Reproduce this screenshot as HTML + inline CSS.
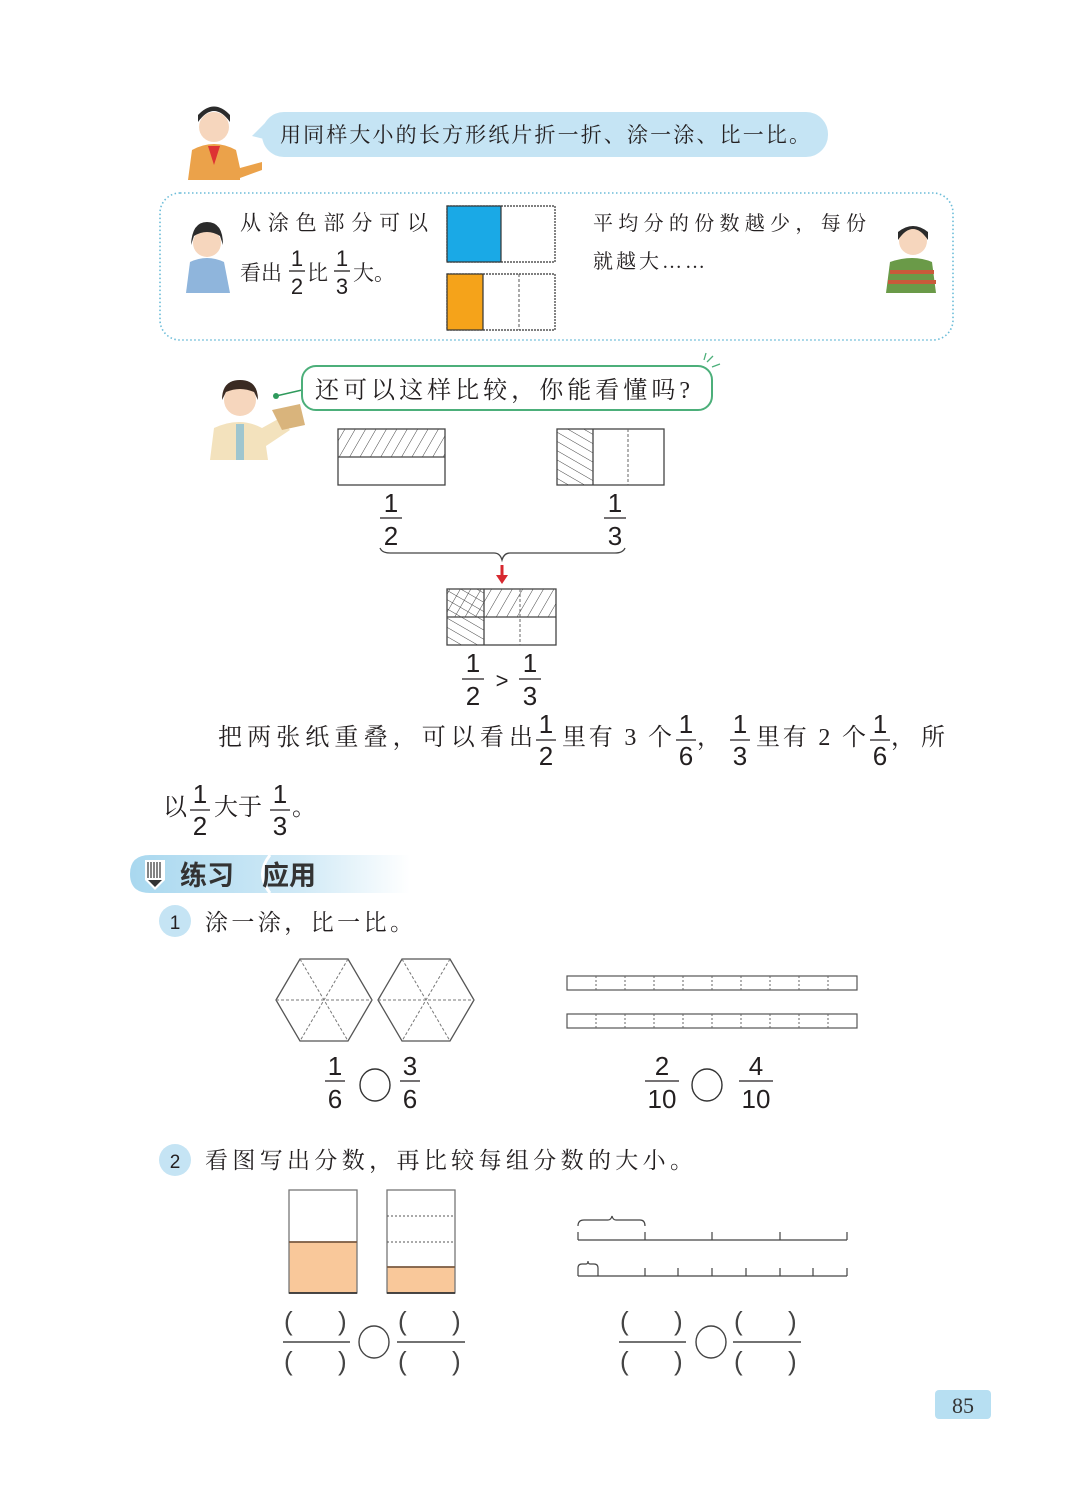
<!DOCTYPE html>
<html><head><meta charset="utf-8"><style>
html,body{margin:0;padding:0;background:#fff;}
svg{display:block}
.t{font-family:"Liberation Serif","Noto Serif CJK SC",serif;fill:#231f20;}
.n{font-family:"Liberation Sans",sans-serif;fill:#231f20;text-anchor:middle;}
</style></head><body>
<svg width="1080" height="1505" viewBox="0 0 1080 1505" xmlns="http://www.w3.org/2000/svg">
<defs>
<pattern id="h1" width="9" height="9" patternUnits="userSpaceOnUse" patternTransform="rotate(30)"><line x1="0" y1="0" x2="0" y2="9" stroke="#444" stroke-width="1"/></pattern>
<pattern id="h2" width="8" height="8" patternUnits="userSpaceOnUse" patternTransform="rotate(-60)"><line x1="0" y1="0" x2="0" y2="8" stroke="#444" stroke-width="1"/></pattern>
</defs>
<rect width="1080" height="1505" fill="#fff"/>

<!-- boy top -->
<circle cx="214" cy="127" r="15" fill="#f6d6bd"/><path d="M198 122 Q214 100 230 122 L230 115 Q214 98 198 115Z" fill="#2b2b2b"/>
<path d="M188 180 L192 150 Q214 138 236 150 L240 168 L262 162 L262 170 L240 178 L240 180Z" fill="#eba24a"/>
<path d="M208 146 L214 165 L220 146Z" fill="#d33"/>
<!-- bubble 1 -->
<rect x="262" y="112" width="566" height="45" rx="22" fill="#c5e4f4"/>
<path d="M266 122 L252 136 L268 140Z" fill="#c5e4f4"/>
<text class="t" x="280" y="142" font-size="21" textLength="530" lengthAdjust="spacing">用同样大小的长方形纸片折一折、涂一涂、比一比。</text>

<!-- dotted box -->
<rect x="160" y="193" width="793" height="147" rx="20" fill="none" stroke="#6bbcd8" stroke-width="1.6" stroke-dasharray="1.5 2.5"/>
<!-- girl -->
<circle cx="207" cy="243" r="14" fill="#f6d6bd"/><path d="M191 245 Q192 222 207 222 Q223 222 223 245 L220 236 Q207 228 194 236Z" fill="#2b2b2b"/>
<path d="M186 293 L190 262 Q207 254 224 262 L230 293Z" fill="#8fb5dc"/>
<text class="t" x="240" y="230" font-size="21" textLength="188" lengthAdjust="spacing">从涂色部分可以</text>
<text class="t" x="240" y="280" font-size="21">看出</text>
<text class="n" x="297" y="266" font-size="22">1</text><line x1="289" y1="271" x2="305" y2="271" stroke="#231f20" stroke-width="1.3"/><text class="n" x="297" y="294" font-size="22">2</text>
<text class="t" x="307" y="280" font-size="21">比</text>
<text class="n" x="342" y="266" font-size="22">1</text><line x1="334" y1="271" x2="350" y2="271" stroke="#231f20" stroke-width="1.3"/><text class="n" x="342" y="294" font-size="22">3</text>
<text class="t" x="353" y="280" font-size="21">大。</text>
<!-- colored rects -->
<rect x="447" y="206" width="108" height="56" fill="#fff" stroke="#333" stroke-width="1.2" stroke-dasharray="2 1"/>
<rect x="447" y="206" width="54" height="56" fill="#1aa9e6" stroke="#333" stroke-width="1.2"/>
<rect x="447" y="274" width="108" height="56" fill="#fff" stroke="#333" stroke-width="1.2" stroke-dasharray="2 1"/>
<rect x="447" y="274" width="36" height="56" fill="#f5a31a" stroke="#333" stroke-width="1.2"/>
<line x1="519" y1="274" x2="519" y2="330" stroke="#555" stroke-dasharray="3 2"/>
<text class="t" x="593" y="230" font-size="20" textLength="273" lengthAdjust="spacing">平均分的份数越少，每份</text>
<text class="t" x="593" y="268" font-size="20" letter-spacing="3">就越大……</text>
<!-- boy right -->
<circle cx="913" cy="241" r="14" fill="#f6d6bd"/><path d="M898 240 Q913 218 928 240 L928 232 Q913 220 898 232Z" fill="#2b2b2b"/>
<path d="M886 293 L890 262 Q913 254 932 262 L936 293Z" fill="#6a9a48"/>
<path d="M890 272 L934 272 M888 282 L936 282" stroke="#c85a3a" stroke-width="4"/>

<!-- teacher -->
<circle cx="240" cy="400" r="16" fill="#f6d6bd"/><path d="M222 400 Q222 380 240 380 Q258 380 258 400 L254 392 Q240 386 226 392Z" fill="#3a2a22"/>
<path d="M210 460 L214 428 Q240 416 262 428 L280 418 L290 430 L266 446 L268 460Z" fill="#f3e2bd"/>
<path d="M236 424 L244 424 L244 460 L236 460Z" fill="#9fc6cf"/>
<path d="M272 410 L300 404 L305 425 L282 430Z" fill="#d9b47c"/>
<!-- bubble 2 -->
<circle cx="276" cy="396" r="3" fill="#2f9a5c"/><line x1="276" y1="396" x2="302" y2="390" stroke="#2f9a5c" stroke-width="1.5"/>
<rect x="302" y="366" width="410" height="44" rx="14" fill="#fff" stroke="#4caf7a" stroke-width="2"/>
<path d="M707 362 L713 356 M712 367 L720 364 M704 360 L706 353" stroke="#4caf7a" stroke-width="1.3"/>
<text class="t" x="315" y="398" font-size="24" textLength="375" lengthAdjust="spacing">还可以这样比较，你能看懂吗?</text>

<!-- rect A -->
<rect x="338" y="429" width="107" height="28" fill="url(#h1)"/>
<rect x="338" y="429" width="107" height="56" fill="none" stroke="#444" stroke-width="1.3"/>
<line x1="338" y1="457" x2="445" y2="457" stroke="#444" stroke-width="1.3"/>
<!-- rect B -->
<rect x="557" y="429" width="36" height="56" fill="url(#h2)"/>
<rect x="557" y="429" width="107" height="56" fill="none" stroke="#444" stroke-width="1.3"/>
<line x1="593" y1="429" x2="593" y2="485" stroke="#444" stroke-width="1.3"/>
<line x1="628" y1="429" x2="628" y2="485" stroke="#666" stroke-dasharray="3 2"/>
<!-- fractions -->
<text class="n" x="391" y="512" font-size="26">1</text><line x1="380" y1="518" x2="402" y2="518" stroke="#231f20" stroke-width="1.3"/><text class="n" x="391" y="545" font-size="26">2</text>
<text class="n" x="615" y="512" font-size="26">1</text><line x1="604" y1="518" x2="626" y2="518" stroke="#231f20" stroke-width="1.3"/><text class="n" x="615" y="545" font-size="26">3</text>
<!-- brace -->
<path d="M380 548 Q382 553 390 553 L494 553 Q500 553 502 560 Q504 553 510 553 L615 553 Q623 553 625 548" fill="none" stroke="#444" stroke-width="1.3"/>
<!-- red arrow -->
<line x1="502" y1="565" x2="502" y2="576" stroke="#d7282f" stroke-width="3"/>
<path d="M496 575 L508 575 L502 584Z" fill="#d7282f"/>
<!-- combined -->
<rect x="447" y="589" width="109" height="28" fill="url(#h1)"/>
<rect x="447" y="589" width="37" height="56" fill="url(#h2)"/>
<rect x="447" y="589" width="109" height="56" fill="none" stroke="#444" stroke-width="1.3"/>
<line x1="447" y1="617" x2="556" y2="617" stroke="#444" stroke-width="1.3"/>
<line x1="484" y1="589" x2="484" y2="645" stroke="#444" stroke-width="1.3"/>
<line x1="520" y1="589" x2="520" y2="645" stroke="#666" stroke-dasharray="3 2"/>
<text class="n" x="473" y="672" font-size="26">1</text><line x1="462" y1="679" x2="484" y2="679" stroke="#231f20" stroke-width="1.3"/><text class="n" x="473" y="705" font-size="26">2</text>
<text class="n" x="502" y="688" font-size="22">&gt;</text>
<text class="n" x="530" y="672" font-size="26">1</text><line x1="519" y1="679" x2="541" y2="679" stroke="#231f20" stroke-width="1.3"/><text class="n" x="530" y="705" font-size="26">3</text>

<!-- paragraph -->
<text class="t" x="218" y="745" font-size="24" textLength="315" lengthAdjust="spacing">把两张纸重叠，可以看出</text>
<text class="n" x="546" y="733" font-size="26">1</text><line x1="536" y1="740" x2="556" y2="740" stroke="#231f20" stroke-width="1.3"/><text class="n" x="546" y="765" font-size="26">2</text>
<text class="t" x="562" y="745" font-size="24" textLength="110" lengthAdjust="spacing">里有 3 个</text>
<text class="n" x="686" y="733" font-size="26">1</text><line x1="676" y1="740" x2="696" y2="740" stroke="#231f20" stroke-width="1.3"/><text class="n" x="686" y="765" font-size="26">6</text>
<text class="t" x="697" y="745" font-size="24">，</text>
<text class="n" x="740" y="733" font-size="26">1</text><line x1="730" y1="740" x2="750" y2="740" stroke="#231f20" stroke-width="1.3"/><text class="n" x="740" y="765" font-size="26">3</text>
<text class="t" x="756" y="745" font-size="24" textLength="110" lengthAdjust="spacing">里有 2 个</text>
<text class="n" x="880" y="733" font-size="26">1</text><line x1="870" y1="740" x2="890" y2="740" stroke="#231f20" stroke-width="1.3"/><text class="n" x="880" y="765" font-size="26">6</text>
<text class="t" x="891" y="745" font-size="24">，</text>
<text class="t" x="921" y="745" font-size="24">所</text>
<text class="t" x="163" y="815" font-size="24">以</text>
<text class="n" x="200" y="803" font-size="26">1</text><line x1="190" y1="810" x2="210" y2="810" stroke="#231f20" stroke-width="1.3"/><text class="n" x="200" y="835" font-size="26">2</text>
<text class="t" x="214" y="815" font-size="24">大于</text>
<text class="n" x="280" y="803" font-size="26">1</text><line x1="270" y1="810" x2="290" y2="810" stroke="#231f20" stroke-width="1.3"/><text class="n" x="280" y="835" font-size="26">3</text>
<text class="t" x="292" y="815" font-size="24">。</text>

<!-- header -->
<defs><linearGradient id="hg" x1="0" x2="1"><stop offset="0" stop-color="#a9d8ef"/><stop offset="0.6" stop-color="#cfe9f6"/><stop offset="1" stop-color="#fff"/></linearGradient></defs>
<path d="M150 855 L410 855 L410 893 L150 893 Q130 893 130 874 Q130 855 150 855Z" fill="url(#hg)"/>
<path d="M270 855 Q255 874 270 893" fill="none" stroke="#fff" stroke-width="3"/>
<path d="M145 860 L165 860 L165 880 L155 890 L145 880Z" fill="#fff"/>
<path d="M148 880 L162 880 L155 887Z" fill="#333"/>
<path d="M148 862 V878 M151 862 V878 M154 862 V878 M157 862 V878 M160 862 V878" stroke="#333" stroke-width="1.2"/>
<text x="180" y="885" font-size="27" font-weight="bold" font-family="'Liberation Sans','Noto Sans CJK SC',sans-serif" fill="#333">练习</text>
<text x="262" y="885" font-size="27" font-weight="bold" font-family="'Liberation Sans','Noto Sans CJK SC',sans-serif" fill="#333">应用</text>

<!-- Q1 -->
<circle cx="175" cy="921" r="16" fill="#c5e4f4"/>
<text class="n" x="175" y="929" font-size="19">1</text>
<text class="t" x="205" y="930" font-size="23" textLength="208" lengthAdjust="spacing">涂一涂，比一比。</text>
<g stroke="#555" stroke-width="1.3" fill="none">
<polygon points="276,1000 300,959 348,959 372,1000 348,1041 300,1041"/>
<polygon points="378,1000 402,959 450,959 474,1000 450,1041 402,1041"/>
</g>
<g stroke="#777" stroke-width="1" stroke-dasharray="3 2">
<line x1="276" y1="1000" x2="372" y2="1000"/><line x1="300" y1="959" x2="348" y2="1041"/><line x1="348" y1="959" x2="300" y2="1041"/>
<line x1="378" y1="1000" x2="474" y2="1000"/><line x1="402" y1="959" x2="450" y2="1041"/><line x1="450" y1="959" x2="402" y2="1041"/>
</g>
<g stroke="#555" stroke-width="1.2" fill="none">
<rect x="567" y="976" width="290" height="14"/><rect x="567" y="1014" width="290" height="14"/>
</g>
<g stroke="#666" stroke-width="1" stroke-dasharray="2 2">
<path d="M596 976V990M625 976V990M654 976V990M683 976V990M712 976V990M741 976V990M770 976V990M799 976V990M828 976V990"/>
<path d="M596 1014V1028M625 1014V1028M654 1014V1028M683 1014V1028M712 1014V1028M741 1014V1028M770 1014V1028M799 1014V1028M828 1014V1028"/>
</g>
<text class="n" x="335" y="1075" font-size="26">1</text><line x1="325" y1="1081" x2="345" y2="1081" stroke="#231f20" stroke-width="1.3"/><text class="n" x="335" y="1108" font-size="26">6</text>
<ellipse cx="375" cy="1085" rx="15" ry="16" fill="none" stroke="#333" stroke-width="1.4"/>
<text class="n" x="410" y="1075" font-size="26">3</text><line x1="400" y1="1081" x2="420" y2="1081" stroke="#231f20" stroke-width="1.3"/><text class="n" x="410" y="1108" font-size="26">6</text>
<text class="n" x="662" y="1075" font-size="26">2</text><line x1="645" y1="1081" x2="679" y2="1081" stroke="#231f20" stroke-width="1.3"/><text class="n" x="662" y="1108" font-size="26">10</text>
<ellipse cx="707" cy="1085" rx="15" ry="16" fill="none" stroke="#333" stroke-width="1.4"/>
<text class="n" x="756" y="1075" font-size="26">4</text><line x1="739" y1="1081" x2="773" y2="1081" stroke="#231f20" stroke-width="1.3"/><text class="n" x="756" y="1108" font-size="26">10</text>

<!-- Q2 -->
<circle cx="175" cy="1160" r="16" fill="#c5e4f4"/>
<text class="n" x="175" y="1168" font-size="19">2</text>
<text class="t" x="205" y="1168" font-size="23" textLength="488" lengthAdjust="spacing">看图写出分数，再比较每组分数的大小。</text>
<rect x="289" y="1242" width="68" height="51" fill="#f9c89a"/>
<rect x="289" y="1190" width="68" height="103" fill="none" stroke="#777" stroke-width="1.3"/>
<line x1="289" y1="1242" x2="357" y2="1242" stroke="#7a5a40" stroke-width="1.8"/>
<line x1="289" y1="1293" x2="357" y2="1293" stroke="#333" stroke-width="1.8"/>
<rect x="387" y="1267" width="68" height="26" fill="#f9c89a"/>
<rect x="387" y="1190" width="68" height="103" fill="none" stroke="#777" stroke-width="1.3"/>
<line x1="387" y1="1216" x2="455" y2="1216" stroke="#555" stroke-dasharray="2 2"/>
<line x1="387" y1="1242" x2="455" y2="1242" stroke="#555" stroke-dasharray="2 2"/>
<line x1="387" y1="1267" x2="455" y2="1267" stroke="#7a5a40" stroke-width="1.8"/>
<line x1="387" y1="1293" x2="455" y2="1293" stroke="#333" stroke-width="1.8"/>
<g stroke="#444" stroke-width="1.2" fill="none">
<line x1="578" y1="1240" x2="847" y2="1240"/>
<path d="M578 1232V1240M645 1232V1240M712 1232V1240M780 1232V1240M847 1232V1240"/>
<path d="M578 1226 Q578 1220 584 1220 L608 1220 Q611 1220 612 1216 Q613 1220 616 1220 L640 1220 Q645 1220 645 1226"/>
<line x1="578" y1="1276" x2="847" y2="1276"/>
<path d="M578 1268V1276M598 1268V1276M645 1268V1276M678 1268V1276M712 1268V1276M746 1268V1276M780 1268V1276M813 1268V1276M847 1268V1276"/>
<path d="M578 1268 Q578 1264 582 1264 L586 1264 Q588 1264 588 1261 Q588 1264 590 1264 L594 1264 Q598 1264 598 1268"/>
</g>
<g font-family="'Liberation Sans',sans-serif" font-size="26" fill="#444">
<text x="284" y="1330">(</text><text x="338" y="1330">)</text><text x="284" y="1370">(</text><text x="338" y="1370">)</text>
<text x="398" y="1330">(</text><text x="452" y="1330">)</text><text x="398" y="1370">(</text><text x="452" y="1370">)</text>
<text x="620" y="1330">(</text><text x="674" y="1330">)</text><text x="620" y="1370">(</text><text x="674" y="1370">)</text>
<text x="734" y="1330">(</text><text x="788" y="1330">)</text><text x="734" y="1370">(</text><text x="788" y="1370">)</text>
</g>
<g stroke="#444" stroke-width="1.4" fill="none">
<line x1="283" y1="1342" x2="350" y2="1342"/><line x1="397" y1="1342" x2="465" y2="1342"/>
<line x1="619" y1="1342" x2="686" y2="1342"/><line x1="733" y1="1342" x2="801" y2="1342"/>
<ellipse cx="374" cy="1342" rx="15" ry="16"/><ellipse cx="711" cy="1342" rx="15" ry="16"/>
</g>
<!-- page number -->
<rect x="935" y="1390" width="56" height="29" rx="4" fill="#b7dff2"/>
<text x="963" y="1413" font-size="22" text-anchor="middle" font-family="'Liberation Serif',serif" fill="#333">85</text>
</svg>
</body></html>
